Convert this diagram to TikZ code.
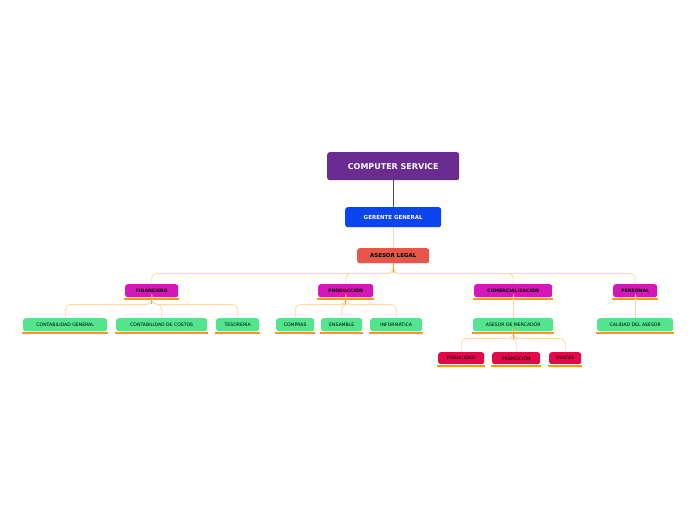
\documentclass[tikz,border=0pt]{standalone}
\usepackage{fontspec}
\setmainfont{DejaVu Sans}
\definecolor{cpur}{HTML}{6A2C91}
\definecolor{cblue}{HTML}{0A45F0}
\definecolor{cred}{HTML}{E8564A}
\definecolor{cmag}{HTML}{D417B8}
\definecolor{cgreen}{HTML}{52E58E}
\definecolor{ccrim}{HTML}{E0094A}
\definecolor{cline}{HTML}{FDD9A0}
\definecolor{cstem}{HTML}{F5A04A}
\definecolor{cbar}{HTML}{F79A10}
\begin{document}
\begin{tikzpicture}[x=1pt,y=-1pt,
 box/.style={rounded corners=2.5pt,inner sep=0pt,anchor=north west},
 lvl/.style={box,text=black,font=\fontsize{4.6}{5}\selectfont},
 conn/.style={cline,line width=0.8pt,rounded corners=5pt},
 stem/.style={cstem,line width=0.8pt},
 bar/.style={cbar,line width=2pt}]
\useasboundingbox (0,0) rectangle (696,520);
\newcommand{\bx}[6]{% name, x1,y1,x2,y2, style/text
 \node[#6,minimum width={#4-#2},minimum height={#5-#3}] (#1) at (#2,#3) {};}
\node[box,fill=cpur,text=white,font=\bfseries\fontsize{8}{9}\selectfont,minimum width=132,minimum height=28] (cs) at (327,152) {COMPUTER SERVICE};
\node[box,fill=cblue,text=white,font=\bfseries\fontsize{5.5}{6}\selectfont,minimum width=96,minimum height=20] (gg) at (345,207) {GERENTE GENERAL};
\node[box,fill=cred,text=black,font=\bfseries\fontsize{5.5}{6}\selectfont,minimum width=72,minimum height=15] (al) at (357,248) {ASESOR LEGAL};
\draw[black!70,line width=0.6pt] (cs.south) -- (gg.north);
\draw[cline,line width=0.8pt] (gg.south) -- (al.north);
% level 2
\foreach \n/\a/\b/\t in {fin/125/178/FINANCIERO,pro/318/373/PRODUCCIÓN,com/474/552/COMERCIALIZACIÓN,per/613/657/PERSONAL}{
 \node[lvl,fill=cmag,font=\bfseries\fontsize{4.6}{5}\selectfont,minimum width={\b-\a},minimum height=13] (\n) at (\a,284) {\t};
 \draw[bar] ([xshift=-1pt,yshift=-1.5pt]\n.south west) -- ([xshift=1pt,yshift=-1.5pt]\n.south east);}
% level 3
\foreach \n/\a/\b/\t in {cg/23/107/CONTABILIDAD GENERAL,cc/116/207/CONTABILIDAD DE COSTOS,te/216/259/TESORERÍA,cp/276/314/COMPRAS,en/321/362/ENSAMBLE,inf/370/422/INFORMÁTICA,am/473/553/ASESOR DE MERCADOR,ca/597/673/CALIDAD DEL ASESOR}{
 \node[lvl,fill=cgreen,minimum width={\b-\a},minimum height=13] (\n) at (\a,318) {\t};
 \draw[bar] ([xshift=-1pt,yshift=-1.5pt]\n.south west) -- ([xshift=1pt,yshift=-1.5pt]\n.south east);}
% level 4
\foreach \n/\a/\b/\t in {pu/438/484/PUBLICIDAD,pm/492/540/PROMOCIÓN,ve/549/581/VENTAS}{
 \node[lvl,fill=ccrim,minimum width={\b-\a},minimum height=12] (\n) at (\a,352) {\t};
 \draw[bar] ([xshift=-1pt,yshift=-1.5pt]\n.south west) -- ([xshift=1pt,yshift=-1.5pt]\n.south east);}
% connectors
\foreach \c in {fin,pro,com,per} \draw[conn] (al.south) -- ++(0,10) -| (\c.north);
\draw[stem] (al.south) -- ++(0,10);
\foreach \c in {cg,cc,te} \draw[conn] ([yshift=3pt]fin.south) -- ++(0,10) -| (\c.north);
\draw[stem] ([yshift=3pt]fin.south) -- ++(0,10);
\foreach \c in {cp,en,inf} \draw[conn] ([yshift=3pt]pro.south) -- ++(0,10) -| (\c.north);
\draw[stem] ([yshift=3pt]pro.south) -- ++(0,10);
\draw[conn] ([yshift=3pt]com.south) -- (am.north);
\draw[conn] ([yshift=3pt]per.south) -- (ca.north);
\foreach \c in {pu,pm,ve} \draw[conn] ([yshift=3pt]am.south) -- ++(0,10) -| (\c.north);
\draw[stem] ([yshift=3pt]am.south) -- ++(0,10);
\end{tikzpicture}
\end{document}
